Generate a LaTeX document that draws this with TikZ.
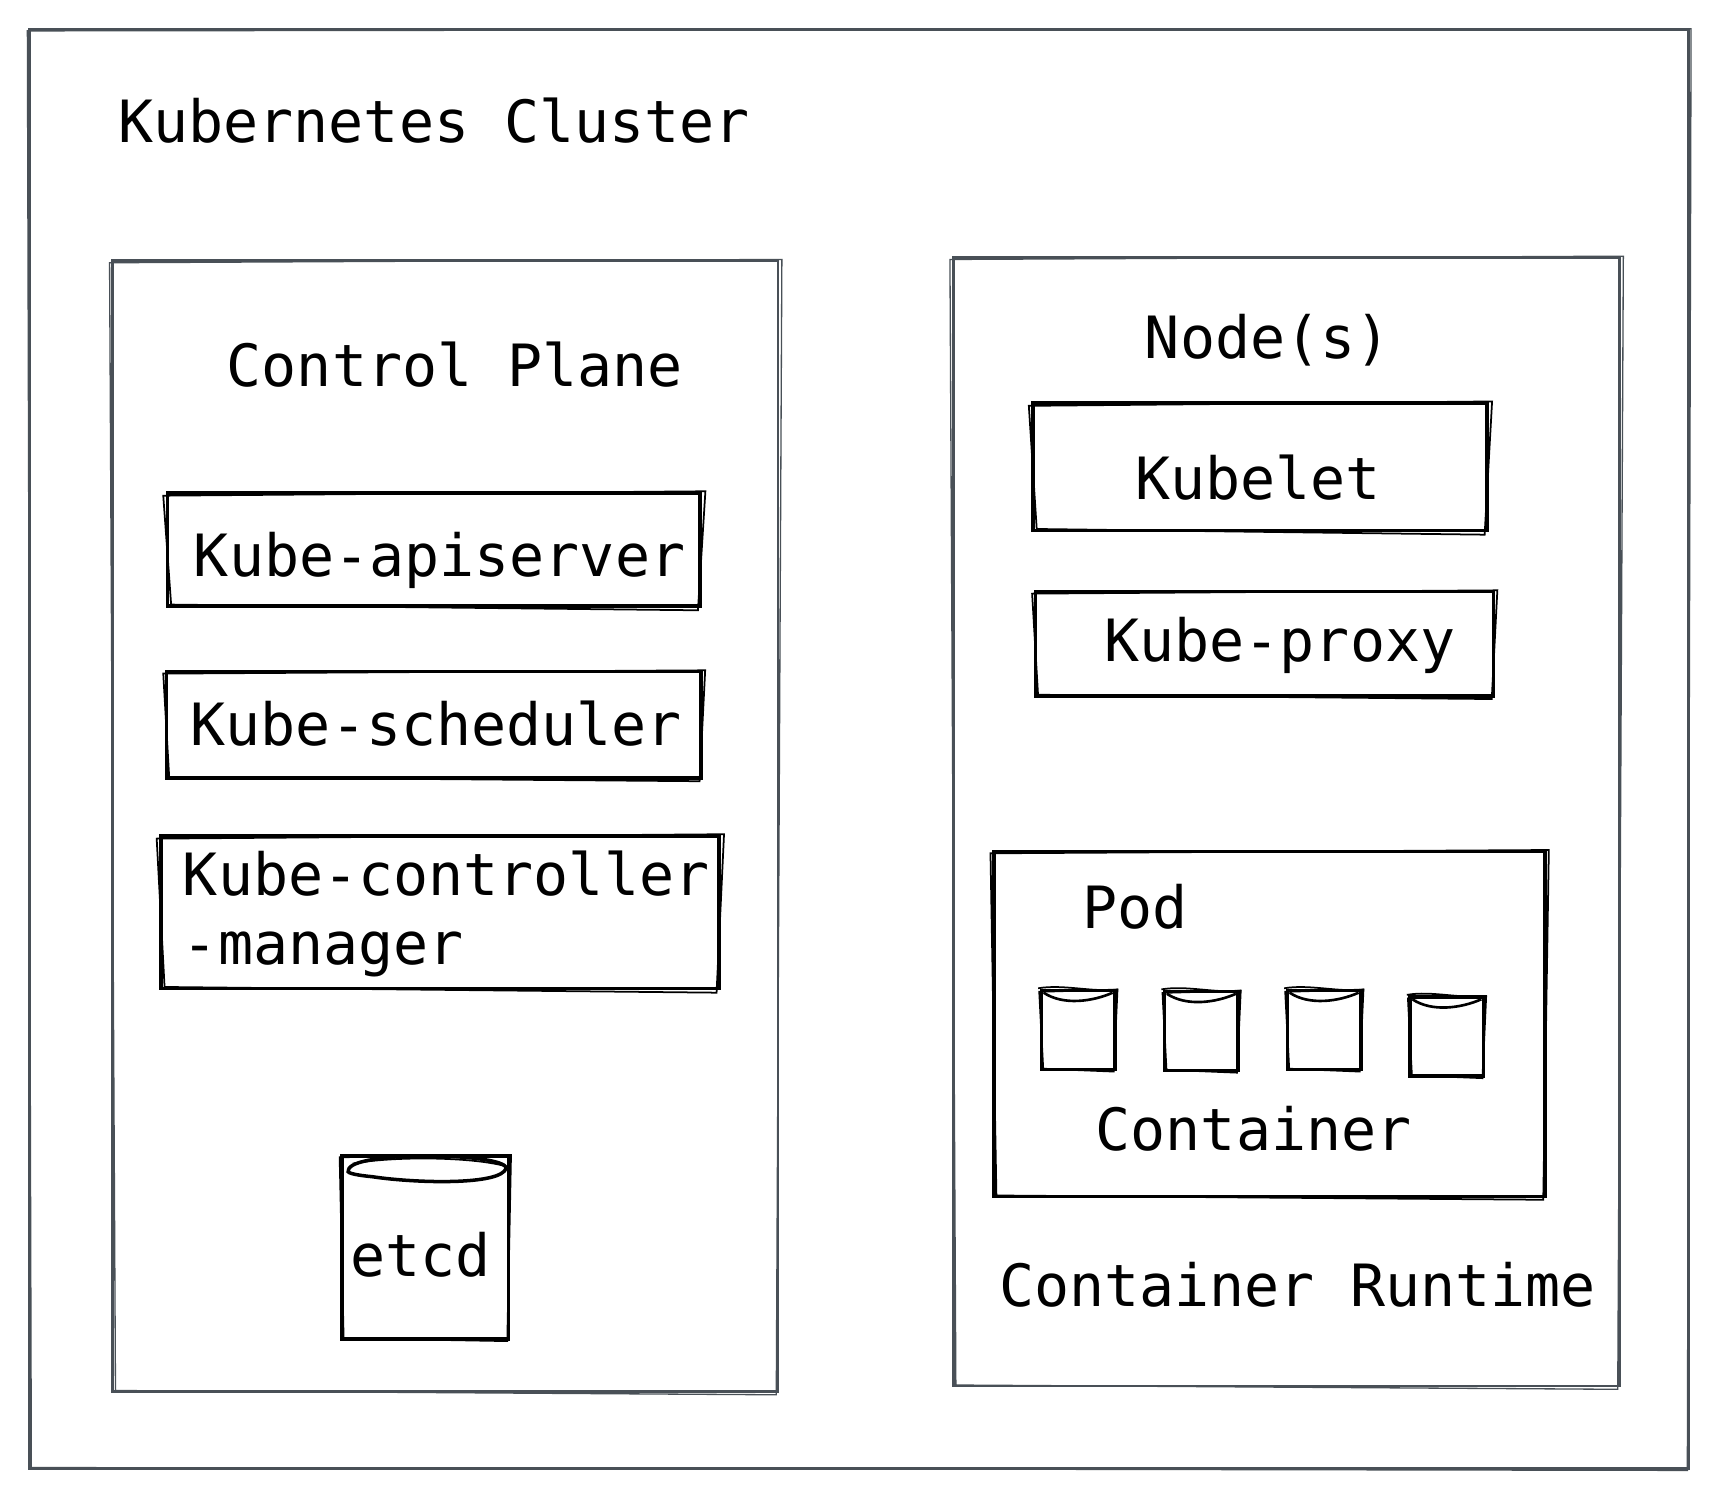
\documentclass[tikz,border=0pt]{standalone}
\usepackage{fontspec}
\setmainfont{DejaVu Sans Mono}
\definecolor{edgegray}{HTML}{495057}
\newcommand\sketchtwo[3]{%
  \draw[#2] ([shift={(-#3,#3*0.6)}]#1.north west) -- ([shift={(#3*1.2,-#3*0.4)}]#1.north east)
    -- ([shift={(-#3*0.5,#3)}]#1.south east) -- ([shift={(#3*0.8,-#3*0.3)}]#1.south west) -- cycle;}
\begin{document}
\begin{tikzpicture}[x=0.5pt,y=-0.5pt,
  every node/.style={inner sep=0pt,outer sep=0pt},
  txt/.style={font=\fontsize{26.6}{34}\selectfont,text=black},
  graybox/.style={draw=edgegray,line width=1.3pt,rectangle},
  blackbox/.style={draw=black,line width=1.6pt,rectangle},
  graythin/.style={draw=edgegray,line width=0.6pt},
  blackthin/.style={draw=black,line width=0.8pt},
  ]
\useasboundingbox[fill=white] (0,0) rectangle (1568,1369);

% outer cluster
\node[graybox,minimum width=757pt,minimum height=656.5pt] (cluster) at (784,683.5) {};
\sketchtwo{cluster}{graythin}{2}
\node[txt,anchor=base west] (tcluster) at (108,130) {Kubernetes Cluster};

% control plane
\node[graybox,minimum width=303.5pt,minimum height=516pt] (cp) at (406.5,754) {};
\sketchtwo{cp}{graythin}{3}
\node[txt,anchor=base west] (tcp) at (207,353) {Control Plane};

\node[blackbox,minimum width=243pt,minimum height=51.5pt] (api) at (396,501.5) {};
\sketchtwo{api}{blackthin}{4}
\node[txt,anchor=base west] (tapi) at (177,526) {Kube-apiserver};

\node[blackbox,minimum width=244pt,minimum height=48.5pt] (sch) at (396,661.5) {};
\sketchtwo{sch}{blackthin}{3}
\node[txt,anchor=base west] (tsch) at (174,680) {Kube-scheduler};

\node[blackbox,minimum width=254.5pt,minimum height=69.5pt] (ctl) at (401.5,832.5) {};
\sketchtwo{ctl}{blackthin}{4}
\node[txt,anchor=base west] (tctl1) at (167,817) {Kube-controller};
\node[txt,anchor=base west] (tctl2) at (167,880) {-manager};

\node[blackbox,minimum width=76pt,minimum height=83.5pt] (etcd) at (388,1138.5) {};
\sketchtwo{etcd}{blackthin}{2}
\draw[black,line width=1.6pt] (318,1068) .. controls (320,1050) and (460,1052) .. (462,1066)
   .. controls (458,1082) and (380,1080) .. (340,1074) .. controls (320,1072) and (316,1070) .. (318,1068);
\draw[black,line width=0.8pt] (322,1062) .. controls (360,1055) and (430,1056) .. (460,1064);
\node[txt,anchor=base west] (tetcd) at (320,1165) {etcd};

% nodes
\node[graybox,minimum width=304pt,minimum height=515pt] (nd) at (1174,750) {};
\sketchtwo{nd}{graythin}{3}
\node[txt,anchor=base west] (tnd) at (1045,327) {Node(s)};

\node[blackbox,minimum width=207pt,minimum height=58pt] (klt) at (1150,426) {};
\sketchtwo{klt}{blackthin}{4}
\node[txt,anchor=base] (tklt) at (1148,456) {Kubelet};

\node[blackbox,minimum width=209pt,minimum height=47.5pt] (kpx) at (1154,587.5) {};
\sketchtwo{kpx}{blackthin}{3}
\node[txt,anchor=base west] (tkpx) at (1008,604) {Kube-proxy};

\node[blackbox,minimum width=251.5pt,minimum height=157.5pt] (pod) at (1158.5,934.5) {};
\sketchtwo{pod}{blackthin}{3}
\node[txt,anchor=base west] (tpod) at (988,847) {Pod};

\foreach \n/\cx/\cy in {c1/984/940, c2/1096.5/941, c3/1208.5/940, c4/1320.5/946}{
  \node[blackbox,minimum width=33.5pt,minimum height=36pt] (\n) at (\cx,\cy) {};
  \sketchtwo{\n}{blackthin}{2}
  \draw[black,line width=1.2pt] ([shift={(2,2)}]\n.north west) .. controls ([shift={(20,14)}]\n.north west) and ([shift={(-20,10)}]\n.north east) .. ([shift={(-2,2)}]\n.north east);
  \draw[black,line width=0.8pt] ([shift={(-3,-2)}]\n.north west) .. controls ([shift={(20,-6)}]\n.north west) and ([shift={(-20,2)}]\n.north east) .. ([shift={(3,-1)}]\n.north east);
}
\node[txt,anchor=base west] (tcont) at (1000,1050) {Container};

\node[txt,anchor=base west] (trt) at (912,1192) {Container Runtime};
\end{tikzpicture}
\end{document}
